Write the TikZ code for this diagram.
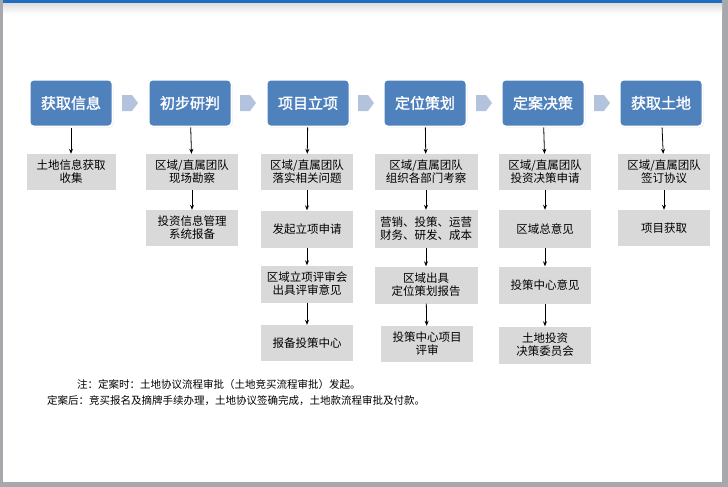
\documentclass[tikz,border=0pt]{standalone}
\usepackage{fontspec}
\setmainfont{Noto Sans CJK SC}
\newfontfamily\cjkb[FakeBold=1.5]{Noto Sans CJK SC}
\usetikzlibrary{arrows.meta,shadows}
\definecolor{bluebox}{HTML}{4F81BD}
\definecolor{graybox}{HTML}{D9D9D9}
\definecolor{chev}{HTML}{B4C3DD}
\definecolor{bar}{HTML}{1F6EC0}
\definecolor{bg}{HTML}{A6A8AB}
\tikzset{
 stage/.style={draw=white,line width=2pt,fill=bluebox,rounded corners=4pt,minimum width=83pt,minimum height=47pt,text=white,font=\cjkb\fontsize{15}{17}\selectfont,drop shadow={opacity=0.3,shadow xshift=1pt,shadow yshift=-1pt}},
 sub/.style={fill=graybox,minimum width=92pt,minimum height=36pt,align=center,inner sep=1pt,font=\fontsize{11.5}{13}\selectfont},
 arr/.style={-{Stealth[length=5pt,width=4pt]},line width=0.8pt},
 chevron/.style={fill=chev,draw=none}
}
\begin{document}
\begin{tikzpicture}[x=1pt,y=-1pt]
\useasboundingbox (0,0) rectangle (728,487);
\fill[bg] (0,0) rectangle (728,487);
\fill[white] (3,0) rectangle (722,482);
\fill[bar] (3,0) rectangle (722,4);
\shade[top color=black!12,bottom color=white] (3,4) rectangle (722,14);
% stages
\foreach \i/\x/\t in {1/71/获取信息,2/190/初步研判,3/308/项目立项,4/425/定位策划,5/543/定案决策,6/661/获取土地}
  \node[stage] (s\i) at (\x,103) {\t};
\foreach \x in {130,248,366,484,602}
  \fill[chevron] (\x-8,95) -- (\x+2,95) -- (\x+8,103) -- (\x+2,111) -- (\x-8,111) -- (\x-8,95);
% column 1
\node[sub,minimum width=89pt] (a1) at (71,172) {土地信息获取\\收集};
% column 2
\node[sub] (b1) at (192,172) {区域/直属团队\\现场勘察};
\node[sub] (b2) at (192,228) {投资信息管理\\系统报备};
% column 3
\node[sub] (c1) at (307,172) {区域/直属团队\\落实相关问题};
\node[sub,minimum height=37pt] (c2) at (307,229) {发起立项申请};
\node[sub,minimum height=37pt] (c3) at (307,284) {区域立项评审会\\出具评审意见};
\node[sub] (c4) at (307,343) {报备投策中心};
% column 4
\node[sub,minimum width=103pt] (d1) at (426,172) {区域/直属团队\\组织各部门考察};
\node[sub,minimum width=103pt,minimum height=38pt] (d2) at (426,229) {营销、投策、运营\\财务、研发、成本};
\node[sub,minimum width=103pt,minimum height=37pt] (d3) at (426,285) {区域出具\\定位策划报告};
\node[sub] (d4) at (427,344) {投策中心项目\\评审};
% column 5
\node[sub] (e1) at (545,172) {区域/直属团队\\投资决策申请};
\node[sub,minimum height=38pt] (e2) at (545,229) {区域总意见};
\node[sub,minimum height=37pt] (e3) at (545,285) {投策中心意见};
\node[sub,minimum height=37pt] (e4) at (545,345) {土地投资\\决策委员会};
% column 6
\node[sub] (f1) at (664,172) {区域/直属团队\\签订协议};
\node[sub] (f2) at (664,228) {项目获取};
% arrows
\foreach \a/\b in {s1/a1,s2/b1,b1/b2,s3/c1,c1/c2,c2/c3,c3/c4,s4/d1,d1/d2,d2/d3,d3/d4,s5/e1,e1/e2,e2/e3,e3/e4,s6/f1,f1/f2}
  \draw[arr] (\a) -- (\b);
% notes
\node[anchor=west,inner sep=0,font=\fontsize{10.5}{12}\selectfont] (n1) at (77,385) {注：定案时：土地协议流程审批（土地竞买流程审批）发起。};
\node[anchor=west,inner sep=0,font=\fontsize{10.5}{12}\selectfont] (n2) at (47,401) {定案后：竞买报名及摘牌手续办理，土地协议签确完成，土地款流程审批及付款。};
\end{tikzpicture}
\end{document}
